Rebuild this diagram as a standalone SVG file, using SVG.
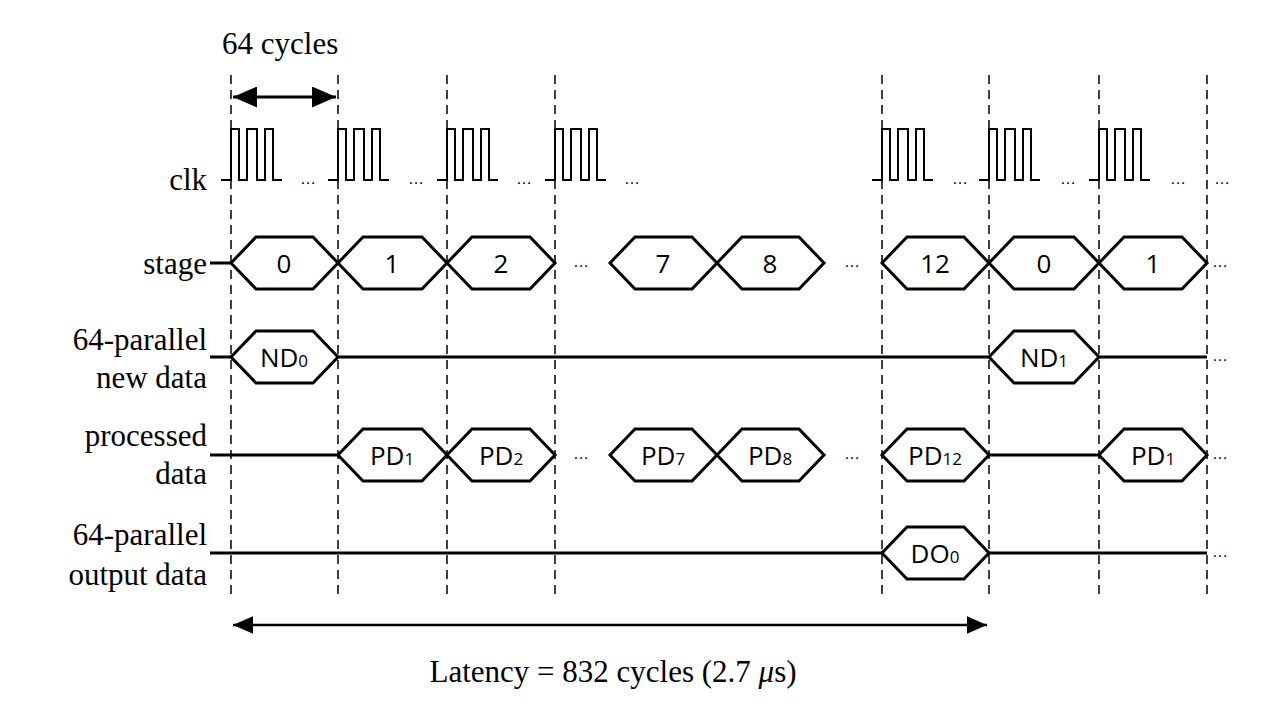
<svg xmlns="http://www.w3.org/2000/svg" width="1280" height="720" viewBox="0 0 1280 720">
<defs>
<style>
.d{stroke:#000;stroke-width:1.5;stroke-dasharray:9,6;fill:none}
.w{stroke:#000;stroke-width:2;fill:none}
.h{stroke:#000;stroke-width:3;fill:#fff;stroke-linejoin:miter}
.l{font-family:"Liberation Serif",serif;font-size:31px;fill:#000}
.t{font-family:"Open Sans","Liberation Sans",sans-serif;font-size:26px;fill:#000;text-anchor:middle}
.s{font-size:17px}
.dot{font-family:"Liberation Sans",sans-serif;font-size:16px;fill:#000}
</style>
<marker id="a" viewBox="0 0 10 10" refX="10" refY="5" markerWidth="8" markerHeight="7" orient="auto-start-reverse" markerUnits="strokeWidth" preserveAspectRatio="none"><path d="M0,0L10,5L0,10z" fill="#000"/></marker>
<path id="clk" d="M0,0h10v-51h8v51h8v-51h10v51h8v-51h8v51h9" class="w"/>
</defs>
<g id="grid">
<path class="d" d="M231,75V600M338,75V600M447,75V600M555,75V600M882,75V600M989,75V600M1099,75V600M1207,75V600"/>
</g>
<g id="labels">
<text class="l" x="222" y="54">64 cycles</text>
<text class="l" x="207" y="190" text-anchor="end">clk</text>
<text class="l" x="207" y="274" text-anchor="end">stage</text>
<text class="l" x="207" y="350" text-anchor="end">64-parallel</text>
<text class="l" x="207" y="388" text-anchor="end">new data</text>
<text class="l" x="207" y="446" text-anchor="end">processed</text>
<text class="l" x="207" y="484" text-anchor="end">data</text>
<text class="l" x="207" y="545" text-anchor="end">64-parallel</text>
<text class="l" x="207" y="585" text-anchor="end">output data</text>
<text class="l" x="613" y="682" text-anchor="middle">Latency = 832 cycles (2.7 <tspan font-style="italic">μ</tspan>s)</text>
</g>
<g id="clock">
<use href="#clk" x="221" y="180"/><use href="#clk" x="328" y="180"/><use href="#clk" x="437" y="180"/><use href="#clk" x="545" y="180"/>
<use href="#clk" x="872" y="180"/><use href="#clk" x="979" y="180"/><use href="#clk" x="1089" y="180"/>
<g class="dot">
<text x="300" y="184">…</text><text x="408" y="184">…</text><text x="516" y="184">…</text><text x="624" y="184">…</text>
<text x="952" y="184">…</text><text x="1060" y="184">…</text><text x="1170" y="184">…</text><text x="1214" y="184">…</text>
</g>
</g>
<g id="connectors">
<path class="w" d="M233,97H336" style="stroke-width:3" marker-start="url(#a)" marker-end="url(#a)"/>
<path class="w" d="M233,625H987" style="stroke-width:2.5" marker-start="url(#a)" marker-end="url(#a)"/>
<path class="w" d="M210,263H231M210,357H231M338,357H989M1099,357H1207M210,455H338M989,455H1099M210,553H882M989,553H1207" style="stroke-width:3"/>
</g>
<g id="stage">
<polygon class="h" points="231,263 256,237 313,237 338,263 313,289 256,289"/><text class="t" x="284" y="273">0</text>
<polygon class="h" points="338,263 363,237 422,237 447,263 422,289 363,289"/><text class="t" x="392" y="273">1</text>
<polygon class="h" points="447,263 472,237 530,237 555,263 530,289 472,289"/><text class="t" x="501" y="273">2</text>
<polygon class="h" points="610,263 635,237 692,237 717,263 692,289 635,289"/><text class="t" x="663" y="273">7</text>
<polygon class="h" points="717,263 742,237 799,237 824,263 799,289 742,289"/><text class="t" x="770" y="273">8</text>
<polygon class="h" points="882,263 907,237 964,237 989,263 964,289 907,289"/><text class="t" x="935" y="273">12</text>
<polygon class="h" points="989,263 1014,237 1074,237 1099,263 1074,289 1014,289"/><text class="t" x="1044" y="273">0</text>
<polygon class="h" points="1099,263 1124,237 1182,237 1207,263 1182,289 1124,289"/><text class="t" x="1153" y="273">1</text>
<g class="dot"><text x="573" y="267">…</text><text x="844" y="267">…</text><text x="1212" y="267">…</text></g>
</g>
<g id="newdata">
<polygon class="h" points="231,357 256,331 313,331 338,357 313,383 256,383"/><text class="t" x="284" y="367">ND<tspan class="s">0</tspan></text>
<polygon class="h" points="989,357 1014,331 1074,331 1099,357 1074,383 1014,383"/><text class="t" x="1044" y="367">ND<tspan class="s">1</tspan></text>
<g class="dot"><text x="1212" y="361">…</text></g>
</g>
<g id="processed">
<polygon class="h" points="338,455 363,429 422,429 447,455 422,481 363,481"/><text class="t" x="392" y="465">PD<tspan class="s">1</tspan></text>
<polygon class="h" points="447,455 472,429 530,429 555,455 530,481 472,481"/><text class="t" x="501" y="465">PD<tspan class="s">2</tspan></text>
<polygon class="h" points="610,455 635,429 692,429 717,455 692,481 635,481"/><text class="t" x="663" y="465">PD<tspan class="s">7</tspan></text>
<polygon class="h" points="717,455 742,429 799,429 824,455 799,481 742,481"/><text class="t" x="770" y="465">PD<tspan class="s">8</tspan></text>
<polygon class="h" points="882,455 907,429 964,429 989,455 964,481 907,481"/><text class="t" x="935" y="465">PD<tspan class="s">12</tspan></text>
<polygon class="h" points="1099,455 1124,429 1182,429 1207,455 1182,481 1124,481"/><text class="t" x="1153" y="465">PD<tspan class="s">1</tspan></text>
<g class="dot"><text x="573" y="459">…</text><text x="844" y="459">…</text><text x="1212" y="459">…</text></g>
</g>
<g id="output">
<polygon class="h" points="882,553 907,527 964,527 989,553 964,579 907,579"/><text class="t" x="935" y="563">DO<tspan class="s">0</tspan></text>
<g class="dot"><text x="1212" y="557">…</text></g>
</g>
</svg>
